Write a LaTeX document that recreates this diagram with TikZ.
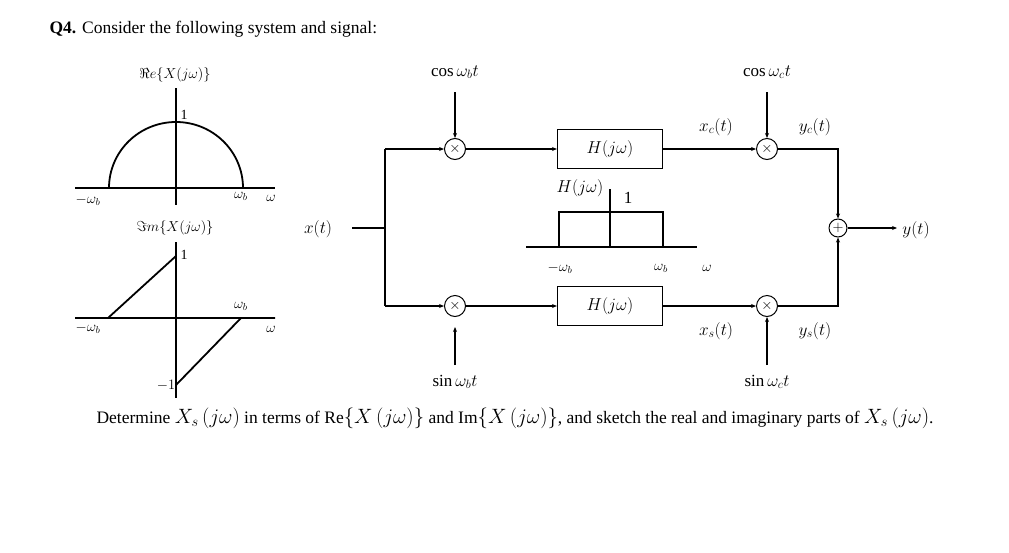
\documentclass[tikz,border=0pt]{standalone}
\usepackage{amssymb}
\usepackage{fontspec}
\setmainfont{Liberation Serif}
\usetikzlibrary{arrows.meta}
\newcommand{\bm}[1]{{\fontsize{21}{21}\selectfont$#1$}}
\begin{document}
\begin{tikzpicture}[x=1pt,y=-1pt,
  ln/.style={line width=1.1pt},
  th/.style={line width=1.8pt},
  ar/.style={ln,-{Stealth[length=5pt,width=4pt]}},
  mul/.style={circle,draw,line width=1pt,minimum size=21pt,inner sep=0pt,font=\fontsize{14}{14}\selectfont},
  sum/.style={circle,draw,line width=1pt,minimum size=18pt,inner sep=0pt,font=\fontsize{14}{14}\selectfont},
  box/.style={draw,line width=1.1pt,minimum width=105pt,minimum height=39pt,font=\fontsize{17}{17}\selectfont},
  lab/.style={font=\fontsize{17}{17}\selectfont},
  sm/.style={font=\fontsize{14}{14}\selectfont},
  tt/.style={font=\fontsize{17.5}{20}\selectfont}]
\useasboundingbox (0,0) rectangle (1009,552);
\node[tt,anchor=west] (q) at (46,29) {\textbf{Q4.} Consider the following system and signal:};
% Re plot
\draw[ln] (75,188) -- (275,188);
\draw[ln] (176,88) -- (176,205);
\draw[th] (109,188) arc[start angle=180,end angle=360,x radius=67,y radius=66];
\node[sm] (ret) at (175,75) {$\Re e\{X(j\omega)\}$};
\node[sm] (r1) at (184,115) {1};
\node[sm] (rwb1) at (88,200) {$-\omega_b$};
\node[sm] (rwb2) at (241,196) {$\omega_b$};
\node[sm] (rw) at (271,198) {$\omega$};
% Im plot
\draw[ln] (75,318) -- (275,318);
\draw[ln] (176,242) -- (176,398);
\draw[th] (75,318) -- (108,318) -- (176,256) -- (176,385) -- (241,318) -- (275,318);
\node[sm] (imt) at (175,228) {$\Im m\{X(j\omega)\}$};
\node[sm] (i1) at (184,255) {1};
\node[sm] (im1) at (166,385) {$-1$};
\node[sm] (iwb1) at (88,328) {$-\omega_b$};
\node[sm] (iwb2) at (241,306) {$\omega_b$};
\node[sm] (iw) at (271,329) {$\omega$};
% system
\node[lab] (x) at (318,229) {$x(t)$};
\coordinate (s) at (385,228);
\coordinate (st) at (385,149);
\coordinate (sb) at (385,306);
\node[mul] (m1) at (455,149) {$\times$};
\node[mul] (m2) at (455,306) {$\times$};
\node[box] (h1) at (610,149) {$H(j\omega)$};
\node[box] (h2) at (610,306) {$H(j\omega)$};
\node[mul] (m3) at (767,149) {$\times$};
\node[mul] (m4) at (767,306) {$\times$};
\node[sum] (sm) at (838,228) {$+$};
\coordinate (rt) at (838,149);
\coordinate (rb) at (838,306);
\coordinate (out) at (897,228);
\draw[ln] (352,228) -- (s);
\draw[ln] (st) -- (sb);
\draw[ar] (st) -- (m1);
\draw[ar] (sb) -- (m2);
\draw[ar] (m1) -- (h1);
\draw[ar] (m2) -- (h2);
\draw[ar] (h1) -- (m3);
\draw[ar] (h2) -- (m4);
\draw[ar] (m3) -- (rt) -- (sm);
\draw[ar] (m4) -- (rb) -- (sm);
\draw[ar] (sm) -- (out);
\node[lab] (y) at (916,230) {$y(t)$};
\node[lab] (c1) at (455,72) {$\cos\omega_b t$};
\node[lab] (c2) at (767,72) {$\cos\omega_c t$};
\node[lab] (s1) at (455,382) {$\sin\omega_b t$};
\node[lab] (s2) at (767,382) {$\sin\omega_c t$};
\coordinate (a1) at (455,92); \coordinate (a2) at (767,92);
\coordinate (a3) at (455,365); \coordinate (a4) at (767,365);
\draw[ar] (a1) -- (m1);
\draw[ar] (a2) -- (m3);
\draw[ar] (a3) -- (455,327);
\draw[ar] (a4) -- (m4);
\node[lab] (xc) at (716,127) {$x_c(t)$};
\node[lab] (yc) at (815,127) {$y_c(t)$};
\node[lab] (xs) at (716,331) {$x_s(t)$};
\node[lab] (ys) at (815,331) {$y_s(t)$};
% mini H plot
\draw[th] (526,247) -- (697,247);
\draw[ln] (610,189) -- (610,247);
\draw[th] (559,247) -- (559,212) -- (663,212) -- (663,247);
\node[lab] (hl) at (580,188) {$H(j\omega)$};
\node[lab] (h1l) at (628,198) {1};
\node[font=\fontsize{14}{14}\selectfont] (hw1) at (560,268) {$-\omega_b$};
\node[font=\fontsize{14}{14}\selectfont] (hw2) at (661,268) {$\omega_b$};
\node[font=\fontsize{14}{14}\selectfont] (hw) at (707,268) {$\omega$};
% question
\node[anchor=west,font=\fontsize{17.5}{20}\selectfont] (d) at (93,418) {Determine \bm{X_s\,(j\omega)} in terms of Re\bm{\{X\,(j\omega)\}} and Im\bm{\{X\,(j\omega)\}}, and sketch the real and imaginary parts of \bm{X_s\,(j\omega)}.};
\end{tikzpicture}
\end{document}
